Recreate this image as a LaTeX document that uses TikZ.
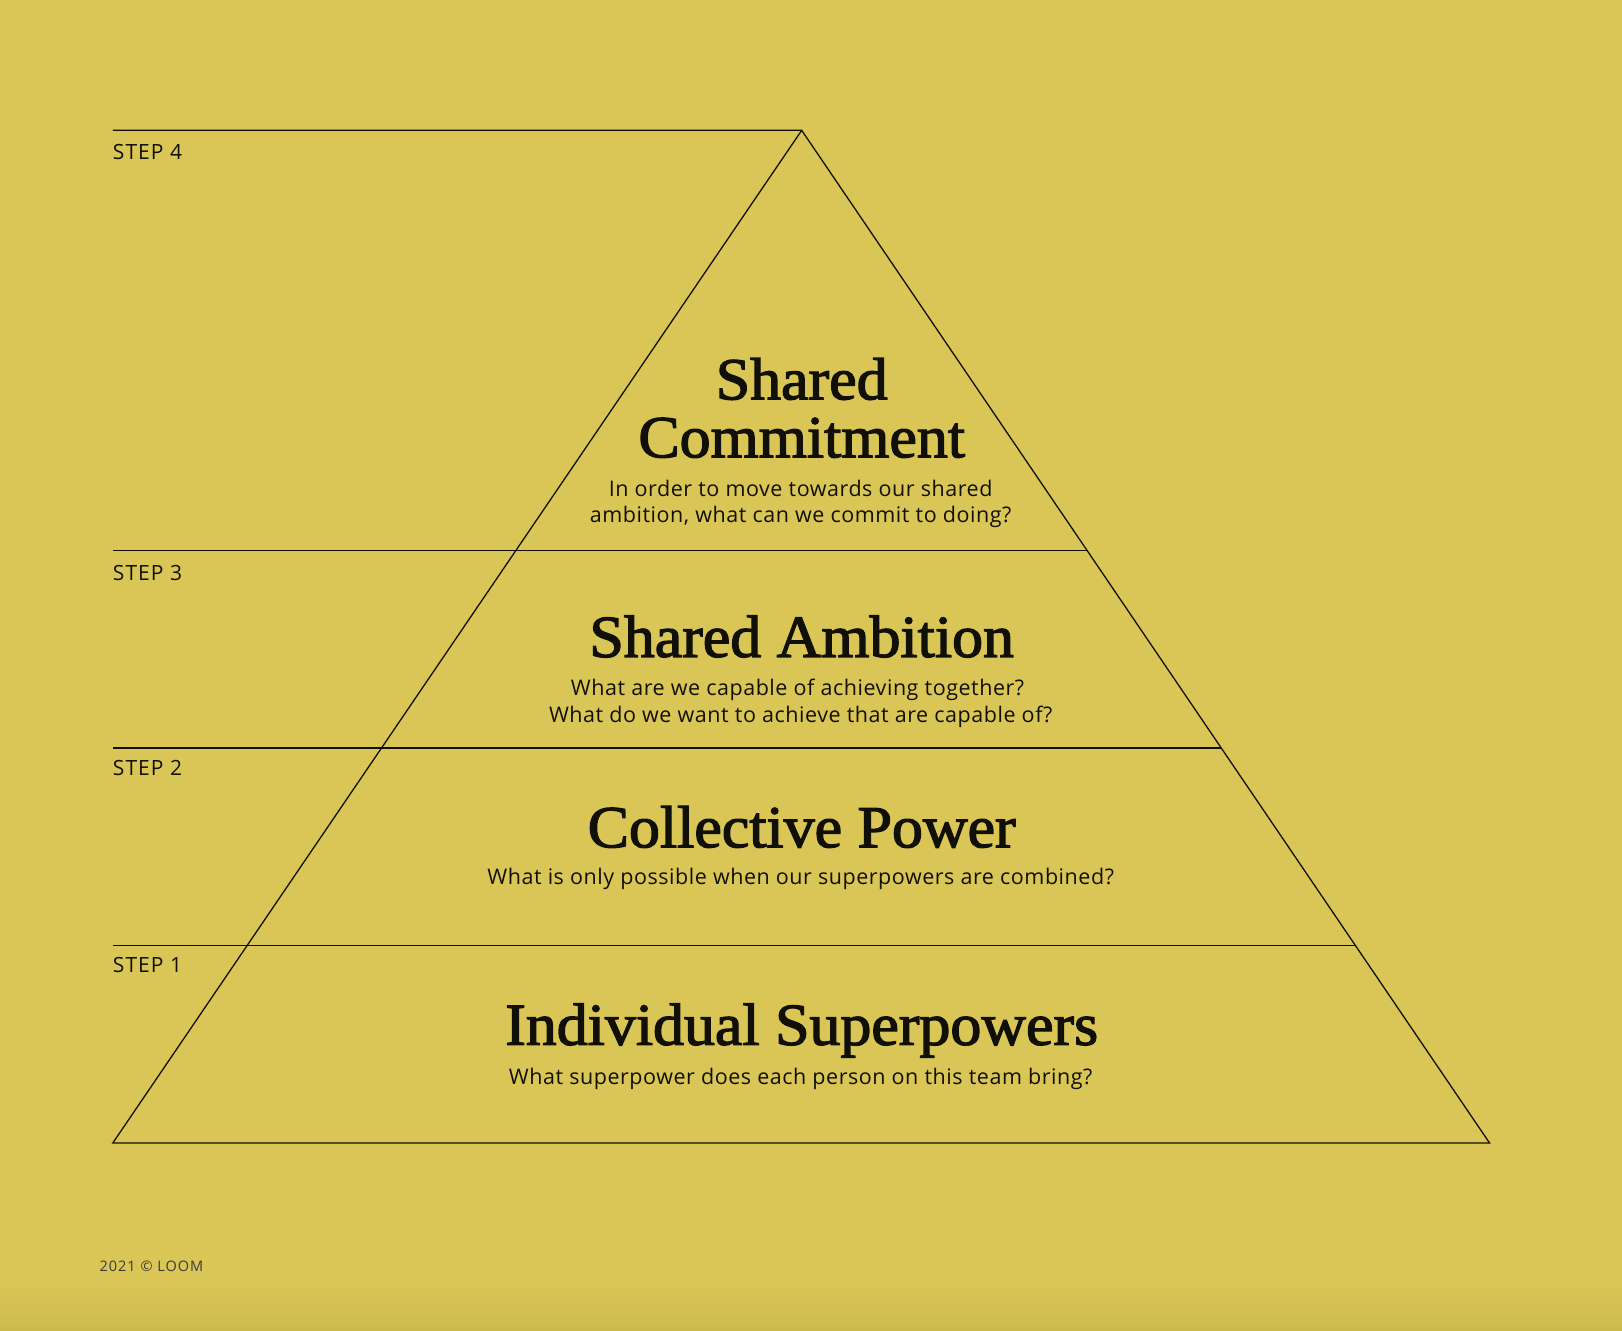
\documentclass[tikz,border=0pt]{standalone}
\usepackage{fontspec}
\setmainfont{Open Sans}
\newfontfamily\titlefont[FakeBold=2.2,FakeStretch=1.04]{Liberation Serif}
\newfontfamily\subfont[LetterSpace=2.5]{Open Sans}
\newfontfamily\stepfont[LetterSpace=5]{Open Sans}
\newfontfamily\footfont[LetterSpace=7]{Open Sans}
\definecolor{bg}{HTML}{DAC656}
\definecolor{bgdark}{HTML}{CDBA4F}
\definecolor{ink}{HTML}{111008}
\definecolor{foot}{HTML}{3A3A36}
\tikzset{
  ln/.style={draw=ink, line width=1.3pt},
  steplabel/.style={anchor=base west, inner sep=0pt, text=ink, font=\stepfont\fontsize{21}{24}\selectfont},
  titletext/.style={anchor=base, inner sep=0pt, text=ink, font=\titlefont\fontsize{59.5}{62}\selectfont},
  subtext/.style={anchor=base, inner sep=0pt, text=ink, font=\subfont\fontsize{21.5}{26}\selectfont},
  foottext/.style={anchor=base west, inner sep=0pt, text=foot, font=\footfont\fontsize{14.5}{17}\selectfont}
}
\begin{document}
\begin{tikzpicture}[x=1.0344pt, y=-1.0344pt]
\fill[bg] (0,0) rectangle (1568,1286);
\shade[top color=bg, bottom color=bgdark] (0,1240) rectangle (1568,1286);
\useasboundingbox (0,0) rectangle (1568,1286);
% pyramid
\coordinate (apex) at (775,126);
\coordinate (bl) at (109,1105);
\coordinate (br) at (1440,1105);
\coordinate (s4) at (109,126);
\coordinate (s3) at (109,532);
\coordinate (s2) at (109,723);
\coordinate (s1) at (109,914);
\coordinate (r3) at (1051,532);
\coordinate (r2) at (1180.5,723);
\coordinate (r1) at (1310.3,914);
\draw[ln, line join=miter] (s4) -- (apex) -- (br) -- (bl) -- (apex);
\draw[ln] (s3) -- (r3);
\draw[ln] (s2) -- (r2);
\draw[ln] (s1) -- (r1);
% step labels
\node[steplabel] (st4) at (109,154) {STEP 4};
\node[steplabel] (st3) at (109,561) {STEP 3};
\node[steplabel] (st2) at (109,750) {STEP 2};
\node[steplabel] (st1) at (109,940) {STEP 1};
% level 4
\node[titletext] (t4a) at (775,386) {Shared};
\node[titletext] (t4b) at (775,442) {Commitment};
\node[subtext] (q4a) at (774,480) {In order to move towards our shared};
\node[subtext] (q4b) at (774,505) {ambition, what can we commit to doing?};
% level 3
\node[titletext] (t3a) at (775,635) {Shared Ambition};
\node[subtext] (q3a) at (771,672) {What are we capable of achieving together?};
\node[subtext] (q3b) at (774,698) {What do we want to achieve that are capable of?};
% level 2
\node[titletext] (t2a) at (775,819) {Collective Power};
\node[subtext] (q2a) at (774,855) {What is only possible when our superpowers are combined?};
% level 1
\node[titletext] (t1a) at (775,1010) {Individual Superpowers};
\node[subtext] (q1a) at (774,1048) {What superpower does each person on this team bring?};
% footer
\node[foottext] (ft) at (96,1229) {2021 © LOOM};
\end{tikzpicture}
\end{document}
